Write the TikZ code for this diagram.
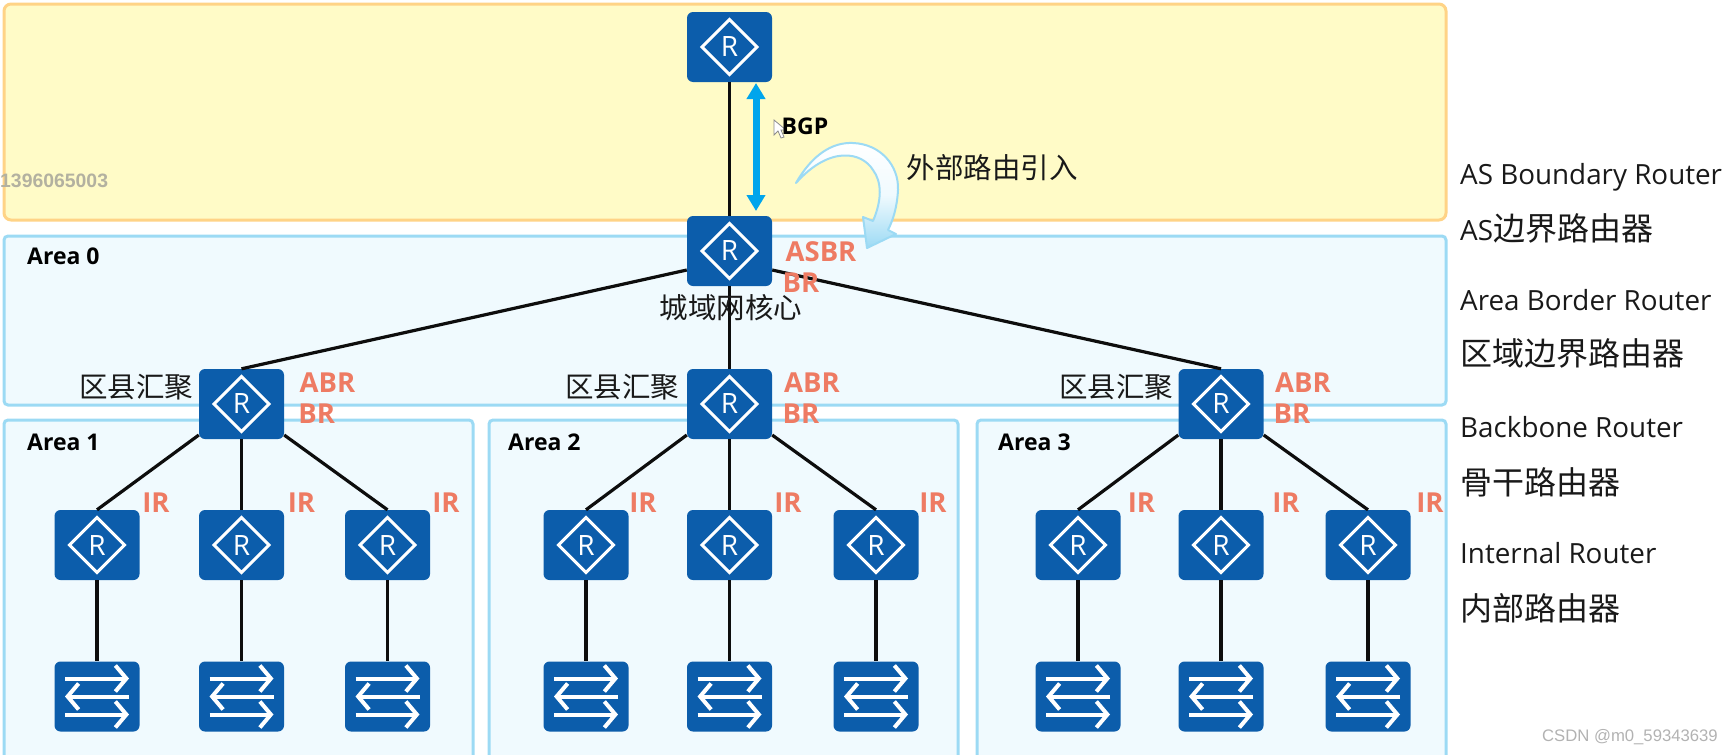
\documentclass[tikz,border=0pt]{standalone}
\usepackage{fontspec}
\usepackage{xcolor}
\usepackage{tikz}
\usetikzlibrary{arrows.meta}
\setmainfont{Open Sans}
\newfontfamily\cjk{Noto Sans CJK SC}
\newfontfamily\markfont{Liberation Sans}
\newcommand{\fs}[1]{\fontsize{#1}{#1}\selectfont}
\definecolor{asfill}{HTML}{FFFBC7}
\definecolor{asline}{HTML}{FFD386}
\definecolor{areafill}{HTML}{F0FAFE}
\definecolor{arealine}{HTML}{9CDAF4}
\definecolor{devblue}{HTML}{0C5DAB}
\definecolor{tagred}{HTML}{EE7B63}
\definecolor{bgpblue}{HTML}{00A5EC}
\definecolor{markgray}{HTML}{B3B1A0}
\tikzset{
    asbox/.style={draw=asline,fill=asfill,line width=3pt,rounded corners=7pt},
    areabox/.style={draw=arealine,fill=areafill,line width=3pt,rounded corners=4pt},
    devbox/.style={draw=none,fill=devblue,rounded corners=6pt,minimum width=85pt,minimum height=70pt,inner sep=0pt,text=white},
    routerbox/.style={devbox,font=\fs{28},path picture={
        \draw[white,line width=3pt,sharp corners,line join=miter]
        ([xshift=-27.5pt]path picture bounding box.center) -- ([yshift=27.5pt]path picture bounding box.center) --
        ([xshift=27.5pt]path picture bounding box.center) -- ([yshift=-27.5pt]path picture bounding box.center) -- cycle;}},
    switchbox/.style={devbox,path picture={
        \draw[white,line width=4pt,sharp corners,-{Straight Barb[length=11pt,width=26pt,line width=4pt]}]
        ([xshift=-32pt,yshift=18pt]path picture bounding box.center) -- ([xshift=32pt,yshift=18pt]path picture bounding box.center);
        \draw[white,line width=4pt,sharp corners,-{Straight Barb[length=11pt,width=26pt,line width=4pt]}]
        ([xshift=32pt]path picture bounding box.center) -- ([xshift=-32pt]path picture bounding box.center);
        \draw[white,line width=4pt,sharp corners,-{Straight Barb[length=11pt,width=26pt,line width=4pt]}]
        ([xshift=-32pt,yshift=-18pt]path picture bounding box.center) -- ([xshift=32pt,yshift=-18pt]path picture bounding box.center);}},
    link/.style={line width=3.2pt,draw=black!95},
    tag/.style={text=tagred,font=\fs{27.5}\bfseries,inner sep=0pt},
    areatag/.style={anchor=west,text=black,font=\fs{23}\bfseries,inner sep=0pt},
    place/.style={text=black!90,font=\fs{28.5}\cjk,inner sep=0pt},
    sideen/.style={anchor=west,text=black!90,font=\fs{27.8},inner sep=0pt},
    sidecn/.style={anchor=west,text=black!90,font=\fs{32}\cjk,inner sep=0pt}
}
\begin{document}
\begin{tikzpicture}[x=1pt,y=-1pt]
    \clip (0,0) rectangle (1733,755);
    \draw[asbox]   (4,4)     rectangle (1446,220);
    \draw[areabox] (4,236)   rectangle (1446,405);
    \draw[areabox] (4,420)   rectangle (473,790);
    \draw[areabox] (489,420) rectangle (958,790);
    \draw[areabox] (977,420) rectangle (1446,790);

    \node[routerbox] (ext)  at (729.5,47)  {R};
    \node[routerbox] (core) at (729.5,251) {R};
    \node[routerbox] (abr1) at (241.5,404) {R};
    \node[routerbox] (abr2) at (729.5,404) {R};
    \node[routerbox] (abr3) at (1221,404)  {R};
    \node[routerbox] (ir11) at (97,545)    {R};
    \node[routerbox] (ir12) at (241.5,545) {R};
    \node[routerbox] (ir13) at (387.5,545) {R};
    \node[routerbox] (ir21) at (586,545)   {R};
    \node[routerbox] (ir22) at (729.5,545) {R};
    \node[routerbox] (ir23) at (876,545)   {R};
    \node[routerbox] (ir31) at (1078,545)  {R};
    \node[routerbox] (ir32) at (1221,545)  {R};
    \node[routerbox] (ir33) at (1368,545)  {R};
    \node[switchbox] (sw11) at (97,696.5)    {};
    \node[switchbox] (sw12) at (241.5,696.5) {};
    \node[switchbox] (sw13) at (387.5,696.5) {};
    \node[switchbox] (sw21) at (586,696.5)   {};
    \node[switchbox] (sw22) at (729.5,696.5) {};
    \node[switchbox] (sw23) at (876,696.5)   {};
    \node[switchbox] (sw31) at (1078,696.5)  {};
    \node[switchbox] (sw32) at (1221,696.5)  {};
    \node[switchbox] (sw33) at (1368,696.5)  {};

    \path[link]
    (ext) edge (core)
    (core) edge (abr2)
    (core.204) edge (abr1.north)
    (core.-24) edge (abr3.north)
    (abr1.216) edge (ir11.north)
    (abr1) edge (ir12)
    (abr1.-36) edge (ir13.north)
    (abr2.216) edge (ir21.north)
    (abr2) edge (ir22)
    (abr2.-36) edge (ir23.north)
    (abr3.216) edge (ir31.north)
    (abr3) edge (ir32)
    (abr3.-36) edge (ir33.north)
    (ir11) edge (sw11)
    (ir12) edge (sw12)
    (ir13) edge (sw13)
    (ir21) edge (sw21)
    (ir22) edge (sw22)
    (ir23) edge (sw23)
    (ir31) edge (sw31)
    (ir32) edge (sw32)
    (ir33) edge (sw33);

    \coordinate (bgptop) at (756,83);
    \coordinate (bgpend) at (756,211);
    \draw[bgpblue,line width=7pt,{Triangle[length=16pt,width=18pt]}-{Triangle[length=16pt,width=18pt]}] (bgptop) -- (bgpend);

    \draw[draw=black!45,fill=white,line width=0.8pt] (774,120) -- (774,135) -- (778,131) -- (781,138) -- (784,137) -- (781,130) -- (786,130) -- cycle;

    \draw[draw=arealine,line width=2pt,line join=round,top color=white,bottom color=arealine,middle color=areafill]
    (796,183) .. controls (812,155) and (832,142) .. (853,143)
    .. controls (880,144) and (899,165) .. (898,190)
    .. controls (897,208) and (893,220) .. (888,230)
    -- (896,234) -- (867,248) -- (863,217) -- (873,221)
    .. controls (882,200) and (882,182) .. (873,170)
    .. controls (862,152) and (830,145) .. (796,183) -- cycle;

    \node[inner sep=0pt,text=black,font=\fs{23}\bfseries] (bgp) at (805,126) {BGP};
    \node[place] (import) at (992,168) {外部路由引入};
    \node[place] (corename) at (731,308) {城域网核心};
    \node[place] (name1) at (136,387) {区县汇聚};
    \node[place] (name2) at (622,387) {区县汇聚};
    \node[place] (name3) at (1116,387) {区县汇聚};

    \node[tag] (asbr) at (821,252) {ASBR};
    \node[tag] (corebr) at (801,283) {BR};
    \node[tag] (abrt1) at (327.5,383) {ABR};
    \node[tag] (brt1) at (316.7,414) {BR};
    \node[tag] (abrt2) at (812,383) {ABR};
    \node[tag] (brt2) at (801,414) {BR};
    \node[tag] (abrt3) at (1303,383) {ABR};
    \node[tag] (brt3) at (1292,414) {BR};
    \node[tag] (irt11) at (156,503) {IR};
    \node[tag] (irt12) at (301.5,503) {IR};
    \node[tag] (irt13) at (446,503) {IR};
    \node[tag] (irt21) at (643,503) {IR};
    \node[tag] (irt22) at (788,503) {IR};
    \node[tag] (irt23) at (933,503) {IR};
    \node[tag] (irt31) at (1141.5,503) {IR};
    \node[tag] (irt32) at (1286,503) {IR};
    \node[tag] (irt33) at (1430,503) {IR};

    \node[areatag] (a0) at (27,256) {Area 0};
    \node[areatag] (a1) at (27,442) {Area 1};
    \node[areatag] (a2) at (508,442) {Area 2};
    \node[areatag] (a3) at (998,442) {Area 3};

    \node[sideen] (en1) at (1460,177) {AS Boundary Router};
    \node[sidecn] (cn1) at (1460,228) {{\fs{27.8}\rmfamily AS}边界路由器};
    \node[sideen] (en2) at (1460,300) {Area Border Router};
    \node[sidecn] (cn2) at (1460,353) {区域边界路由器};
    \node[sideen] (en3) at (1460,427) {Backbone Router};
    \node[sidecn] (cn3) at (1460,482) {骨干路由器};
    \node[sideen] (en4) at (1460,553) {Internal Router};
    \node[sidecn] (cn4) at (1460,608) {内部路由器};

    \node[anchor=west,inner sep=0pt,text=markgray,font=\fs{19.4}\markfont\bfseries] (mark) at (0,181) {1396065003};
    \node[anchor=east,inner sep=0pt,text=black!30,font=\fs{16.7}\markfont] (csdn) at (1718,737) {CSDN @m0\_59343639};
\end{tikzpicture}
\end{document}
